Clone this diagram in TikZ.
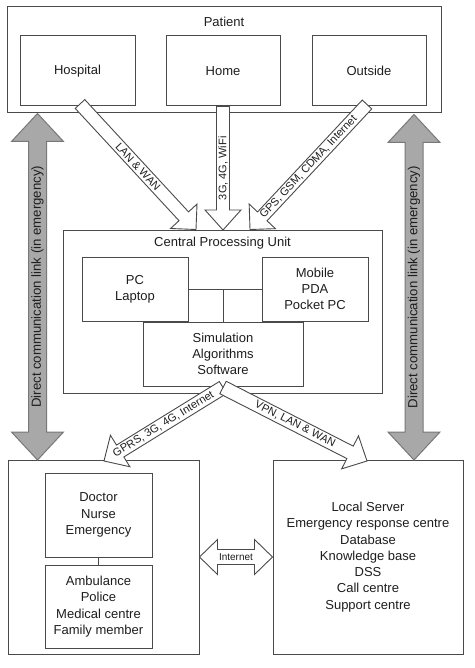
\documentclass[tikz,border=0pt]{standalone}
\usepackage{fontspec}
\setmainfont{Liberation Sans}
\usetikzlibrary{calc}
\definecolor{ln}{HTML}{4A4A4A}
\definecolor{tx}{HTML}{1E1E1E}
\definecolor{gfill}{HTML}{A8A8A8}
\definecolor{gline}{HTML}{787878}
% #1 tail, #2 tip, #3 half shaft, #4 half head, #5 head length, #6 style, #7 label, #8 label options
\newcommand{\blockarrow}[8]{%
  \coordinate (bah) at ($(#2)!#5!(#1)$);
  \path[#6] ($(#1)!#3!90:(#2)$) -- ($(bah)!#3!90:(#2)$) -- ($(bah)!#4!90:(#2)$) -- (#2)
     -- ($(bah)!#4!-90:(#2)$) -- ($(bah)!#3!-90:(#2)$) -- ($(#1)!#3!-90:(#2)$) -- cycle;
  \path (#1) -- (#2) node[pos=0.5, arrowlabel, #8] {#7};
}
% #1 end a, #2 end b, #3 half shaft, #4 half head, #5 head length, #6 style
\newcommand{\dblockarrow}[6]{%
  \coordinate (dba) at ($(#1)!#5!(#2)$);
  \coordinate (dbb) at ($(#2)!#5!(#1)$);
  \path[#6] (#1) -- ($(dba)!#4!90:(#2)$) -- ($(dba)!#3!90:(#2)$) -- ($(dbb)!#3!-90:(#1)$)
     -- ($(dbb)!#4!-90:(#1)$) -- (#2) -- ($(dbb)!#4!90:(#1)$) -- ($(dbb)!#3!90:(#1)$)
     -- ($(dba)!#3!-90:(#2)$) -- ($(dba)!#4!-90:(#2)$) -- cycle;
}
\begin{document}
\begin{tikzpicture}[x=1pt,y=-1pt,
  every node/.style={text=tx, font=\fontsize{13}{16.3}\selectfont},
  box/.style={draw=ln, line width=1pt, inner sep=0pt, align=center},
  wirestyle/.style={draw=ln, line width=1pt},
  whitearrow/.style={draw=ln, line width=0.9pt, fill=white, line join=miter},
  grayarrow/.style={draw=gline, line width=1pt, fill=gfill, line join=miter},
  arrowlabel/.style={font=\fontsize{11}{12}\selectfont, inner sep=0pt},
  graylabel/.style={font=\fontsize{13.2}{14}\selectfont, inner sep=0pt, rotate=90}]
\useasboundingbox (0,0) rectangle (474,668);
\fill[white] (0,0) rectangle (474,668);

% Patient
\node[box, minimum width=434pt, minimum height=106pt] (patient) at (224,60) {};
\node (ptext) at (224,22) {Patient};
\node[box, minimum width=115pt, minimum height=70pt] (hospital) at (77.5,71) {Hospital};
\node[box, minimum width=114pt, minimum height=70pt] (home) at (223,71) {Home};
\node[box, minimum width=114pt, minimum height=70pt] (outside) at (369,71) {Outside};

% Central processing unit
\node[box, minimum width=319pt, minimum height=163pt] (cpu) at (222.5,311.5) {};
\node (ctext) at (222.5,243) {Central Processing Unit};
\node[box, minimum width=106pt, minimum height=64pt] (pc) at (135,289) {PC\\Laptop};
\node[box, minimum width=106pt, minimum height=64pt] (mobile) at (315,289) {Mobile\\PDA\\Pocket PC};
\node[box, minimum width=160pt, minimum height=64pt] (sim) at (223,354) {Simulation\\Algorithms\\Software};
\coordinate (junc) at (sim.north |- pc.east);
\draw[wirestyle] (pc.east) -- (mobile.west);
\draw[wirestyle] (junc) -- (sim.north);

% Bottom boxes
\node[box, minimum width=191pt, minimum height=194pt] (team) at (103.5,557) {};
\node[box, minimum width=107pt, minimum height=84pt] (doctor) at (98.5,515) {Doctor\\Nurse\\Emergency};
\node[box, minimum width=107pt, minimum height=83pt] (ambulance) at (98.5,606.5) {Ambulance\\Police\\Medical centre\\Family member};
\draw[wirestyle] (doctor.south) -- (ambulance.north);
\node[box, minimum width=190pt, minimum height=194pt] (services) at (368,557)
  {Local Server\\Emergency response centre\\Database\\Knowledge base\\DSS\\Call centre\\Support centre};

% Patient -> CPU arrows
\coordinate (hosptail) at (80,104);
\coordinate (hosptip) at (196,229.5);
\coordinate (hometail) at (home.south);
\coordinate (hometip) at (223,230);
\coordinate (outtail) at (367,104.5);
\coordinate (outtip) at (250,229.5);
\blockarrow{hosptail}{hosptip}{6.5pt}{18pt}{18pt}{whitearrow}{LAN \& WAN}{sloped}
\blockarrow{hometail}{hometip}{6.5pt}{18pt}{20pt}{whitearrow}{3G, 4G, WiFi}{rotate=90}
\blockarrow{outtail}{outtip}{6.5pt}{18pt}{18pt}{whitearrow}{GPS, GSM, CDMA, Internet}{sloped}

% CPU -> bottom arrows
\coordinate (simtail) at (223,387.5);
\coordinate (lefttip) at (104,461);
\coordinate (righttip) at (367,461);
\blockarrow{simtail}{lefttip}{7pt}{18.5pt}{19pt}{whitearrow}{GPRS, 3G, 4G, Internet}{sloped}
\blockarrow{simtail}{righttip}{7pt}{18.5pt}{19pt}{whitearrow}{VPN, LAN \& WAN}{sloped}

% Internet double arrow
\dblockarrow{team.east}{services.west}{7.5pt}{17.5pt}{18pt}{whitearrow}
\path (team.east) -- (services.west) node[midway, font=\fontsize{10}{11}\selectfont, inner sep=0pt] (inet) {Internet};

% Gray direct communication arrows
\coordinate (gla) at (37.5,113.5);
\coordinate (glb) at (37.5,460);
\coordinate (gra) at (414,114.5);
\coordinate (grb) at (414,460);
\dblockarrow{gla}{glb}{9pt}{26pt}{28pt}{grayarrow}
\dblockarrow{gra}{grb}{9pt}{26pt}{28pt}{grayarrow}
\path (gla) -- (glb) node[midway, graylabel] (gltext) {Direct communication link (in emergency)};
\path (gra) -- (grb) node[midway, graylabel] (grtext) {Direct communication link (in emergency)};
\end{tikzpicture}
\end{document}
